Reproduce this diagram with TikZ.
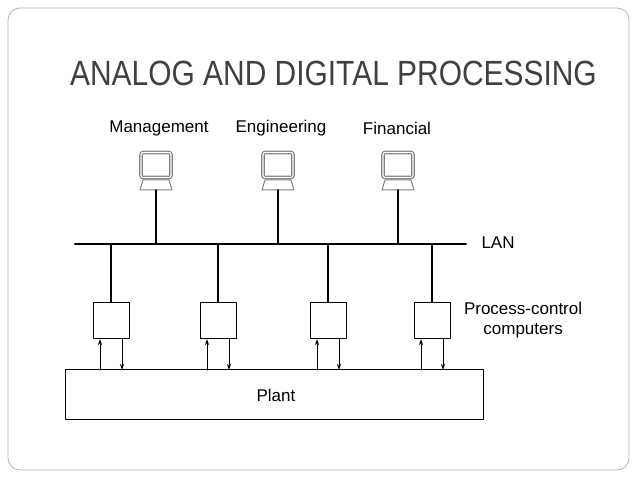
\documentclass[tikz,border=0pt]{standalone}
\usepackage{fontspec}
\setmainfont{Liberation Sans}
\usetikzlibrary{arrows.meta,positioning}
\tikzset{
  lbl/.style={font=\fontsize{17}{20}\selectfont},
  pcbox/.style={draw,line width=1pt,minimum width=36pt,minimum height=36pt,inner sep=0pt},
  screen/.style={draw=gray,double=white,double distance=1.2pt,line width=1.2pt,rounded corners=2pt,minimum width=30pt,minimum height=25pt,inner sep=0pt},
  bus/.style={line width=2.2pt},
  io/.style={line width=1pt,-{Stealth[length=6pt,width=4pt]}}
}
\begin{document}
\begin{tikzpicture}[x=1pt,y=-1pt,line cap=round,line join=round]
    \useasboundingbox (0,0) rectangle (638,478);
    \draw[gray!60,line width=0.8pt,rounded corners=12pt] (8,8) rectangle (629,470);
    \node[anchor=west,text=black!75,font=\fontsize{35}{40}\selectfont,xscale=0.855,inner sep=0pt] (title) at (70,73) {ANALOG AND DIGITAL PROCESSING};
    % computers on the LAN
    \coordinate (lanW) at (75,244);
    \coordinate (lanE) at (466,244);
    \draw[bus] (lanW) -- (lanE);
    \node[lbl,anchor=west] (lan) at (478,243) {LAN};
    \foreach \x/\nm/\txt in {159/mgmt/Management,281/eng/Engineering,397/fin/Financial}{
      \node[lbl] (\nm) at (\x,128) {\txt};
    }
    \foreach \x/\nm in {156/mgmt,278/eng,398/fin}{
      \node[screen] (\nm scr) at (\x,165) {};
      \draw[gray,line width=1pt,fill=white] (\x-13,180) -- (\x+13,180) -- (\x+16,190) -- (\x-16,190) -- cycle;
      \coordinate (\nm kb) at (\x,190);
      \coordinate (\nm tap) at (\x,244);
      \draw[line width=1.6pt] (\nm kb) -- (\nm tap);
    }
    % plant
    \node[draw,line width=1pt,minimum width=418pt,minimum height=50pt,inner sep=0pt] (plant) at (274,395) {};
    \node[lbl] (plantlbl) at (276,395) {Plant};
    % process-control computers
    \foreach \x/\i in {111/1,218/2,328/3,432/4}{
      \node[pcbox] (pc\i) at (\x,320.5) {};
      \coordinate (tap\i) at (\x,244);
      \draw[line width=1.6pt] (tap\i) -- (pc\i.north);
      \coordinate (up\i) at (\x-11,370);
      \coordinate (dn\i) at (\x+11,370);
      \draw[io] (up\i) -- (up\i |- pc\i.south);
      \draw[io] (dn\i |- pc\i.south) -- (dn\i);
    }
    \node[lbl,align=center,right=10pt of pc4] (pclbl) {Process-control\\computers};
\end{tikzpicture}
\end{document}
